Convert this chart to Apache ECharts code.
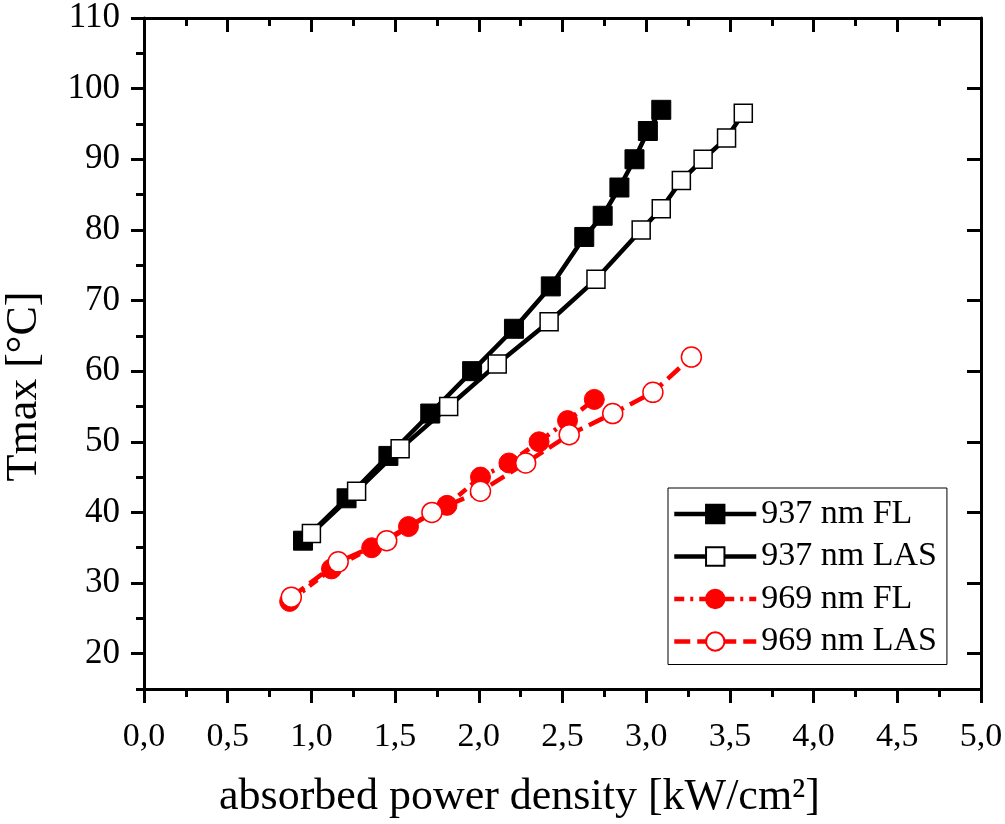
<!DOCTYPE html>
<html>
<head>
<meta charset="utf-8">
<script src="https://cdn.jsdelivr.net/npm/echarts@6/dist/echarts.min.js"></script>
<style>
  html, body { margin: 0; padding: 0; background: #fff; }
  #chart { width: 1005px; height: 824px; }
</style>
</head>
<body>
<div id="chart"></div>
<script>
// 937 nm, filled squares / open squares
const fl937X = [0.95, 1.21, 1.46, 1.71, 1.96, 2.21, 2.43, 2.63, 2.74, 2.84, 2.93, 3.01, 3.09];
const fl937Y = [36, 42, 48, 54, 60, 66, 72, 79, 82, 86, 90, 94, 97];
const las937X = [1.00, 1.27, 1.53, 1.82, 2.11, 2.42, 2.70, 2.97, 3.09, 3.21, 3.34, 3.48, 3.58];
const las937Y = [37, 43, 49, 55, 61, 67, 73, 80, 83, 87, 90, 93, 96.5];
// 969 nm, filled circles / open circles
const fl969X = [0.87, 1.12, 1.36, 1.58, 1.81, 2.01, 2.18, 2.36, 2.53, 2.69];
const fl969Y = [27.4, 32, 35, 38, 41, 45, 47, 50, 53, 56];
const las969X = [0.88, 1.16, 1.45, 1.72, 2.01, 2.28, 2.54, 2.80, 3.04, 3.27];
const las969Y = [28, 33, 36, 40, 43, 47, 51, 54, 57, 62];

const yMajor = [20, 30, 40, 50, 60, 70, 80, 90, 100, 110];
const yMinor = [15, 25, 35, 45, 55, 65, 75, 85, 95, 105];

const pairs = (xs, ys) => xs.map((x, i) => [x, ys[i]]);

const FONT = 'Liberation Serif';
const RED = '#ff0000';

let myChart = echarts.init(document.getElementById('chart'));

const lineAxis = { show: true, onZero: false, lineStyle: { color: '#000', width: 3 } };

let option = {
  animation: false,
  backgroundColor: '#fff',
  // fixed plot box, don't let v6 shrink it for the labels
  grid: { left: 144, right: 24, top: 18, bottom: 135, outerBoundsMode: 'none', containLabel: false },
  legend: {
    orient: 'vertical',
    left: 668,
    top: 488,
    padding: [9, 10, 6, 4],
    itemWidth: 82,
    itemHeight: 23,
    itemGap: 8.5,
    borderColor: '#000',
    borderWidth: 1,
    lineStyle: { width: 4.5 },
    textStyle: { fontFamily: FONT, fontSize: 34, color: '#000', lineHeight: 34 },
    data: ['937 nm FL', '937 nm LAS', '969 nm FL', '969 nm LAS']
  },
  xAxis: [
    {
      type: 'value', position: 'bottom', min: 0, max: 5, interval: 0.5,
      axisLine: lineAxis,
      axisTick: { show: true, inside: false, length: 14, lineStyle: { width: 3, color: '#000' } },
      minorTick: { show: true, splitNumber: 2, length: 8, lineStyle: { width: 3, color: '#000' } },
      splitLine: { show: false },
      axisLabel: {
        margin: 31, fontFamily: FONT, fontSize: 34, color: '#000',
        formatter: v => v.toFixed(1).replace('.', ',')
      },
      name: 'absorbed power density [kW/cm²]',
      nameLocation: 'middle',
      nameGap: 86,
      nameTextStyle: { fontFamily: FONT, fontSize: 44, color: '#000', padding: [0, 86, 0, 0] }
    },
    {
      type: 'value', position: 'top', min: 0, max: 5, interval: 0.5,
      axisLine: lineAxis,
      axisTick: { show: true, inside: true, length: 14, lineStyle: { width: 3, color: '#000' } },
      minorTick: { show: true, splitNumber: 2, length: 8, lineStyle: { width: 3, color: '#000' } },
      splitLine: { show: false },
      axisLabel: { show: false }
    }
  ],
  yAxis: [
    {
      type: 'value', position: 'left', min: 15, max: 110,
      axisLine: lineAxis,
      axisTick: { show: true, inside: false, length: 13, customValues: yMajor, lineStyle: { width: 3, color: '#000' } },
      splitLine: { show: false },
      axisLabel: { margin: 24, customValues: yMajor, fontFamily: FONT, fontSize: 35, color: '#000' },
      name: 'Tmax [°C]',
      nameLocation: 'middle',
      nameRotate: 90,
      nameGap: 98,
      nameTextStyle: { fontFamily: FONT, fontSize: 44, color: '#000', padding: [0, 66, 0, 0] }
    },
    {
      // minor ticks, left
      type: 'value', position: 'left', min: 15, max: 110,
      axisLine: { show: false },
      axisTick: { show: true, inside: false, length: 7, customValues: yMinor, lineStyle: { width: 3, color: '#000' } },
      splitLine: { show: false },
      axisLabel: { show: false }
    },
    {
      type: 'value', position: 'right', min: 15, max: 110,
      axisLine: lineAxis,
      axisTick: { show: true, inside: true, length: 14, customValues: yMajor, lineStyle: { width: 3, color: '#000' } },
      splitLine: { show: false },
      axisLabel: { show: false }
    },
    {
      // minor ticks, right
      type: 'value', position: 'right', min: 15, max: 110,
      axisLine: { show: false },
      axisTick: { show: true, inside: true, length: 8, customValues: yMinor, lineStyle: { width: 3, color: '#000' } },
      splitLine: { show: false },
      axisLabel: { show: false }
    }
  ],
  series: [
    {
      name: '937 nm FL', type: 'line', data: pairs(fl937X, fl937Y),
      symbol: 'rect', symbolSize: 19,
      lineStyle: { color: '#000', width: 4.5 },
      itemStyle: { color: '#000', borderColor: '#000', borderWidth: 1 }
    },
    {
      name: '937 nm LAS', type: 'line', data: pairs(las937X, las937Y),
      symbol: 'rect', symbolSize: 18,
      lineStyle: { color: '#000', width: 4.5 },
      itemStyle: { color: '#fff', borderColor: '#000', borderWidth: 1.5 }
    },
    {
      name: '969 nm FL', type: 'line', data: pairs(fl969X, fl969Y),
      symbol: 'circle', symbolSize: 20,
      lineStyle: { color: RED, width: 4.5, type: [10, 6, 3, 6] },
      itemStyle: { color: RED, borderColor: RED, borderWidth: 1 }
    },
    {
      name: '969 nm LAS', type: 'line', data: pairs(las969X, las969Y),
      symbol: 'circle', symbolSize: 20,
      lineStyle: { color: RED, width: 4.5, type: [16, 7] },
      itemStyle: { color: '#fff', borderColor: RED, borderWidth: 1.5 }
    }
  ]
};

myChart.setOption(option);
</script>
</body>
</html>
